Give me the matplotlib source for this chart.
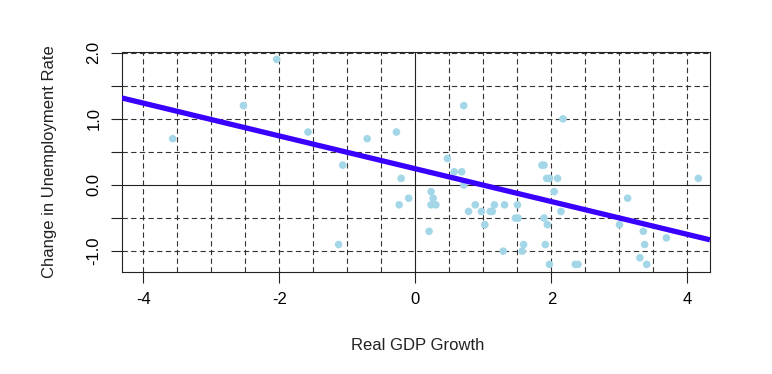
import matplotlib
matplotlib.use("Agg")
import matplotlib.pyplot as plt
import numpy as np

plt.rcParams['font.family'] = ['Liberation Sans', 'DejaVu Sans']
plt.rcParams['axes.unicode_minus'] = False

gdp_growth = [-3.57, -2.53, -2.04, -1.58, -1.07, -1.13, -0.71, -0.28, -0.21, -0.10,
              -0.24, 0.71, 2.17, 0.47, 0.57, 0.68, 0.71, 0.23, 0.26, 0.23,
              0.30, 0.20, 0.88, 0.78, 0.97, 1.02, 1.10, 1.13, 1.16, 1.31,
              1.50, 1.47, 1.51, 1.29, 1.59, 1.57, 1.86, 1.89, 1.93, 1.97,
              2.09, 2.04, 2.14, 1.89, 1.94, 1.91, 1.97, 2.35, 2.39, 3.12,
              3.00, 3.35, 3.69, 3.37, 3.30, 3.40, 4.16]
unemp_change = [0.7, 1.2, 1.9, 0.8, 0.3, -0.9, 0.7, 0.8, 0.1, -0.2,
                -0.3, 1.2, 1.0, 0.4, 0.2, 0.2, 0.0, -0.1, -0.2, -0.3,
                -0.3, -0.7, -0.3, -0.4, -0.4, -0.6, -0.4, -0.4, -0.3, -0.3,
                -0.3, -0.5, -0.5, -1.0, -0.9, -1.0, 0.3, 0.3, 0.1, 0.1,
                0.1, -0.1, -0.4, -0.5, -0.6, -0.9, -1.2, -1.2, -1.2, -0.2,
                -0.6, -0.7, -0.8, -0.9, -1.1, -1.2, 0.1]
fit_intercept = 0.245
fit_slope = -0.248

x_ticks = [-4, -2, 0, 2, 4]
y_ticks = [-1.0, -0.5, 0.0, 0.5, 1.0, 1.5, 2.0]
y_tick_labels = ['-1.0', '', '0.0', '', '1.0', '', '2.0']
grid_x = np.arange(-4, 4.01, 0.5)
grid_y = np.arange(-1, 2.01, 0.5)

fig = plt.figure(figsize=(7.72, 3.74), dpi=100)
ax = fig.add_axes([0.1576, 0.2719, 0.762, 0.589])
xlim = (-4.32, 4.33)
ax.set_xlim(*xlim)
ax.set_ylim(-1.32, 2.01)

dash = (0, (4.8, 3.0))
for gx in grid_x:
    if gx != 0:
        ax.axvline(gx, color='#333333', lw=0.8, linestyle=dash, zorder=1)
for gy in grid_y:
    if gy != 0:
        ax.axhline(gy, color='#333333', lw=0.8, linestyle=dash, zorder=1)
ax.axhline(0, color='#222222', lw=0.8, zorder=1)
ax.axvline(0, color='#222222', lw=0.8, zorder=1)

ax.scatter(gdp_growth, unemp_change, s=30, color='#A3D7E8', edgecolors='none', zorder=2)

xs = np.array(xlim)
ax.plot(xs, fit_intercept + fit_slope * xs, color='#3A00FF', lw=3.8, zorder=3,
        solid_capstyle='butt')

ax.set_xticks(x_ticks)
ax.set_xticklabels([str(v) for v in x_ticks])
ax.set_yticks(y_ticks)
ax.set_yticklabels(y_tick_labels)
ax.tick_params(axis='x', length=7.6, width=0.8, pad=6.5, labelsize=12, color='#222222')
ax.tick_params(axis='y', length=7.6, width=0.8, pad=7, labelsize=12, labelrotation=90,
               color='#222222')
for lab in ax.get_yticklabels():
    lab.set_va('center')
for sp in ax.spines.values():
    sp.set_linewidth(0.8)
    sp.set_color('#222222')

fig.text(418 / 772, 1 - 346 / 374, 'Real GDP Growth', ha='center', va='center', fontsize=12,
         color='#222222')
fig.text(50 / 772, 1 - 162 / 374, 'Change in Unemployment Rate', ha='center', va='center',
         rotation=90, fontsize=12, color='#222222')

fig.savefig('out.png', dpi=100)
